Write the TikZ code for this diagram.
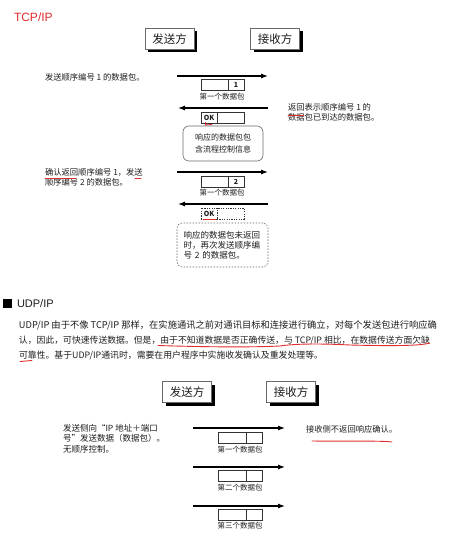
\documentclass[tikz,border=0pt]{standalone}
\usepackage{fontspec}
\usepackage{graphicx}
\setmainfont{Liberation Sans}
\newfontfamily\cjk{Noto Sans CJK SC}
\usetikzlibrary{arrows.meta,shadows}
\definecolor{mred}{RGB}{225,45,45}
\definecolor{boxgray}{RGB}{105,105,105}
\definecolor{txt}{RGB}{30,30,30}
\begin{document}
\begin{tikzpicture}[x=1pt,y=-1pt,
  every node/.style={inner sep=0pt, outer sep=0pt, text=txt},
  party/.style={draw=boxgray, line width=0.6pt, fill=white, minimum width=49pt, minimum height=21pt,
    font=\cjk\fontsize{11.5}{13}\selectfont,
    drop shadow={shadow xshift=3pt, shadow yshift=-3pt, opacity=1, fill=black}},
  msg/.style={line width=1.1pt, -{Latex[length=7pt,width=5pt]}},
  pkt/.style={draw=black!80, line width=0.5pt, minimum height=11pt, font=\cjk\fontsize{7}{8}\selectfont\bfseries},
  pktdash/.style={pkt, dash pattern=on 1.2pt off 1.2pt},
  lbl/.style={font=\cjk\fontsize{7.5}{9}\selectfont},
  desc/.style={font=\cjk\fontsize{8.3}{10}\selectfont, align=left},
  para/.style={anchor=west, font=\cjk\fontsize{9.2}{11}\selectfont},
  redline/.style={draw=mred, line width=0.9pt, line cap=round}
]
\useasboundingbox (0,0) rectangle (474,556);
\fill[white] (0,0) rectangle (474,556);

% ---------------- TCP/IP ----------------
\node[anchor=west, text=mred, font=\fontsize{12}{14}\selectfont] (tcptitle) at (14,17) {TCP/IP};

\node[party] (snd1) at (169.5,39) {发送方};
\node[party] (rcv1) at (275,39) {接收方};

% step 1
\node[desc, anchor=west] (t1) at (45,77) {发送顺序编号 1 的数据包。};
\coordinate (a1s) at (177,76); \coordinate (a1e) at (268,76);
\draw[msg] (a1s) -- (a1e);
\node[pkt, minimum width=27pt, anchor=north west] (p1a) at (201,79) {};
\node[pkt, minimum width=16pt, anchor=west] (p1b) at (p1a.east) {1};
\node[lbl] (l1) at (222,97) {第一个数据包};

% step 2
\coordinate (a2s) at (268,108); \coordinate (a2e) at (178,108);
\draw[msg] (a2s) -- (a2e);
\node[desc, anchor=north west, font=\cjk\fontsize{8.3}{10.5}\selectfont] (t2) at (288,103) {返回表示顺序编号 1 的\\数据包已到达的数据包。};
\node[pkt, minimum width=16pt, anchor=north west] (ok1a) at (201,112) {OK};
\node[pkt, minimum width=27pt, anchor=west] (ok1b) at (ok1a.east) {};
\draw[redline] (288,115.5) -- (304,115.5);
\draw[redline] (205,125) -- (212,124.5);
\draw[redline] (205,125) -- (205,122.5);
\node[draw=boxgray, line width=0.6pt, rounded corners=6pt, minimum width=80pt, minimum height=35pt,
  align=center, font=\cjk\fontsize{8}{12}\selectfont] (n1) at (223,143.5) {响应的数据包包\\含流程控制信息};

% step 3
\node[desc, anchor=north west, font=\cjk\fontsize{8.3}{10.5}\selectfont] (t3) at (45,168) {确认返回顺序编号 1，发送\\顺序编号 2 的数据包。};
\draw[redline] (45,178.5) -- (76,178.5);
\draw[redline] (135,178) -- (141,178);
\coordinate (a3s) at (177,172); \coordinate (a3e) at (268,172);
\draw[msg] (a3s) -- (a3e);
\node[pkt, minimum width=27pt, anchor=north west] (p2a) at (201,176) {};
\node[pkt, minimum width=16pt, anchor=west] (p2b) at (p2a.east) {2};
\node[lbl] (l2) at (222,193) {第一个数据包};

% step 4
\coordinate (a4s) at (268,204); \coordinate (a4e) at (178,204);
\draw[msg] (a4s) -- (a4e);
\node[pktdash, minimum width=16pt, anchor=north west] (ok2a) at (201,208) {OK};
\node[pktdash, minimum width=27pt, anchor=west] (ok2b) at (ok2a.east) {};
\draw[redline] (203,219.5) -- (216,219.5);
\node[draw=boxgray, line width=0.6pt, dash pattern=on 1.5pt off 1.5pt, rounded corners=5pt,
  minimum width=91pt, minimum height=44pt, text width=78pt, align=left,
  font=\cjk\fontsize{8.5}{10}\selectfont] (n2) at (222.5,245) {响应的数据包未返回\\时，再次发送顺序编\\号 2 的数据包。};

% ---------------- UDP/IP ----------------
\fill[black] (3,299) rectangle (12,308);
\node[anchor=west, font=\fontsize{11}{13}\selectfont] (udptitle) at (17,303.5) {UDP/IP};
\node[para] (pl1) at (19,325) {\resizebox{418pt}{!}{UDP/IP 由于不像 TCP/IP 那样，在实施通讯之前对通讯目标和连接进行确立，对每个发送包进行响应确}};
\node[para] (pl2) at (19,340.5) {\resizebox{411pt}{!}{认，因此，可快速传送数据。但是，由于不知道数据是否正确传送，与 TCP/IP 相比，在数据传送方面欠缺}};
\node[para] (pl3) at (19,355.5) {\resizebox{304pt}{!}{可靠性。基于UDP/IP通讯时，需要在用户程序中实施收发确认及重发处理等。}};
\draw[redline] (158,345.5) .. controls (220,347.5) and (260,347) .. (280,346)
  .. controls (300,343) and (330,344) .. (350,345) .. controls (390,346) and (420,346) .. (430,343);
\draw[redline] (20,361.5) -- (32,360.5);

\node[party] (snd2) at (187,392) {发送方};
\node[party] (rcv2) at (291,392) {接收方};

\node[desc, anchor=north west, font=\cjk\fontsize{8.5}{10.6}\selectfont] (t4) at (63,424) {发送侧向“IP 地址＋端口\\号”发送数据（数据包）。\\无顺序控制。};
\node[desc, anchor=west] (t5) at (306,429) {接收侧不返回响应确认。};
\draw[redline] (312,441) .. controls (350,441.5) and (380,440.5) .. (392,442);

\coordinate (u1s) at (193,428); \coordinate (u1e) at (285,428);
\coordinate (u2s) at (193,467); \coordinate (u2e) at (285,467);
\coordinate (u3s) at (193,506); \coordinate (u3e) at (285,506);
\draw[msg] (u1s) -- (u1e);
\draw[msg] (u2s) -- (u2e);
\draw[msg] (u3s) -- (u3e);

\node[pkt, minimum width=28pt, anchor=north west] (q1a) at (218,432) {};
\node[pkt, minimum width=16pt, anchor=west] (q1b) at (q1a.east) {};
\node[lbl] (m1) at (240,450) {第一个数据包};
\node[pkt, minimum width=28pt, anchor=north west] (q2a) at (218,470) {};
\node[pkt, minimum width=16pt, anchor=west] (q2b) at (q2a.east) {};
\node[lbl] (m2) at (240,487.5) {第二个数据包};
\node[pkt, minimum width=28pt, anchor=north west] (q3a) at (218,509) {};
\node[pkt, minimum width=16pt, anchor=west] (q3b) at (q3a.east) {};
\node[lbl] (m3) at (240,526) {第三个数据包};
\end{tikzpicture}
\end{document}
